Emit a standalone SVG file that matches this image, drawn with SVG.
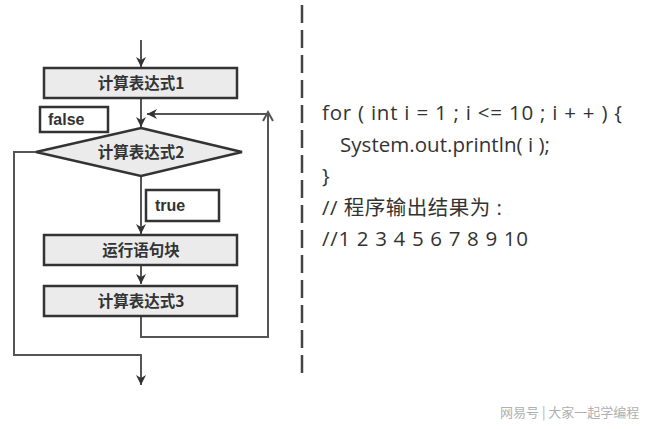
<svg xmlns="http://www.w3.org/2000/svg" width="650" height="429" viewBox="0 0 650 429">
<style>
.box{fill:#ebebeb;stroke:#333;stroke-width:2.5}
.lbl{fill:#fff;stroke:#333;stroke-width:2.5}
.t{font-family:"Noto Sans CJK SC","Liberation Sans",sans-serif;font-weight:bold;font-size:15.5px;fill:#333;text-anchor:middle}
.tl{font-family:"Liberation Sans","Noto Sans CJK SC",sans-serif;font-weight:bold;font-size:16px;fill:#333}
.ln{fill:none;stroke:#555;stroke-width:2}
.code{font-family:"Open Sans","Noto Sans CJK SC",sans-serif;font-size:20.5px;fill:#333}
</style>
<defs>
<marker id="ah" viewBox="0 0 10 10" refX="10" refY="5" markerWidth="10" markerHeight="10" markerUnits="userSpaceOnUse" orient="auto">
<path d="M0,0 L10,5 L0,10 L3,5 Z" fill="#333"/>
</marker>
</defs>
<rect width="650" height="429" fill="#fff"/>
<g id="connectors">
<line class="ln" x1="141" y1="40" x2="141" y2="67" marker-end="url(#ah)"/>
<line class="ln" x1="141" y1="99" x2="141" y2="127" marker-end="url(#ah)"/>
<line class="ln" x1="141" y1="177" x2="141" y2="234" marker-end="url(#ah)"/>
<line class="ln" x1="141" y1="266" x2="141" y2="284" marker-end="url(#ah)"/>
<polyline class="ln" points="141,317 141,337 268,337 268,114 147,114" marker-end="url(#ah)"/>
<path d="M263,121 L268,112 L273,121" fill="none" stroke="#555" stroke-width="2"/>
<polyline class="ln" points="36,152 14,152 14,355 141,355 141,385" marker-end="url(#ah)"/>
<line x1="302" y1="5" x2="302" y2="375" stroke="#444" stroke-width="2.5" stroke-dasharray="18 7"/>
</g>
<g id="n1"><rect class="box" x="44" y="68" width="193" height="30"/><text class="t" x="141" y="89">计算表达式1</text></g>
<g id="false"><rect class="lbl" x="40" y="107" width="68" height="25"/><text class="tl" x="48" y="125">false</text></g>
<g id="n2"><polygon class="box" points="141,128 242,152 141,176 36,152"/><text class="t" x="141" y="158">计算表达式2</text></g>
<g id="true"><rect class="lbl" x="146" y="190" width="73" height="31"/><text class="tl" x="155" y="211">true</text></g>
<g id="n3"><rect class="box" x="44" y="235" width="193" height="30"/><text class="t" x="141" y="256">运行语句块</text></g>
<g id="n4"><rect class="box" x="44" y="286" width="193" height="30"/><text class="t" x="141" y="307">计算表达式3</text></g>
<g id="code">
<text class="code" x="322" y="120" textLength="300" lengthAdjust="spacing">for ( int i = 1 ; i &lt;= 10 ; i + + ) {</text>
<text class="code" x="340" y="152" textLength="210" lengthAdjust="spacing">System.out.println( i );</text>
<text class="code" x="322" y="183">}</text>
<text class="code" x="322" y="215" textLength="180" lengthAdjust="spacing">// 程序输出结果为 :</text>
<text class="code" x="322" y="246" textLength="206" lengthAdjust="spacing">//1 2 3 4 5 6 7 8 9 10</text>
</g>
<text x="500" y="417" font-family="Noto Sans CJK SC,sans-serif" font-size="13" fill="#b0b0b0">网易号 | 大家一起学编程</text>
</svg>
